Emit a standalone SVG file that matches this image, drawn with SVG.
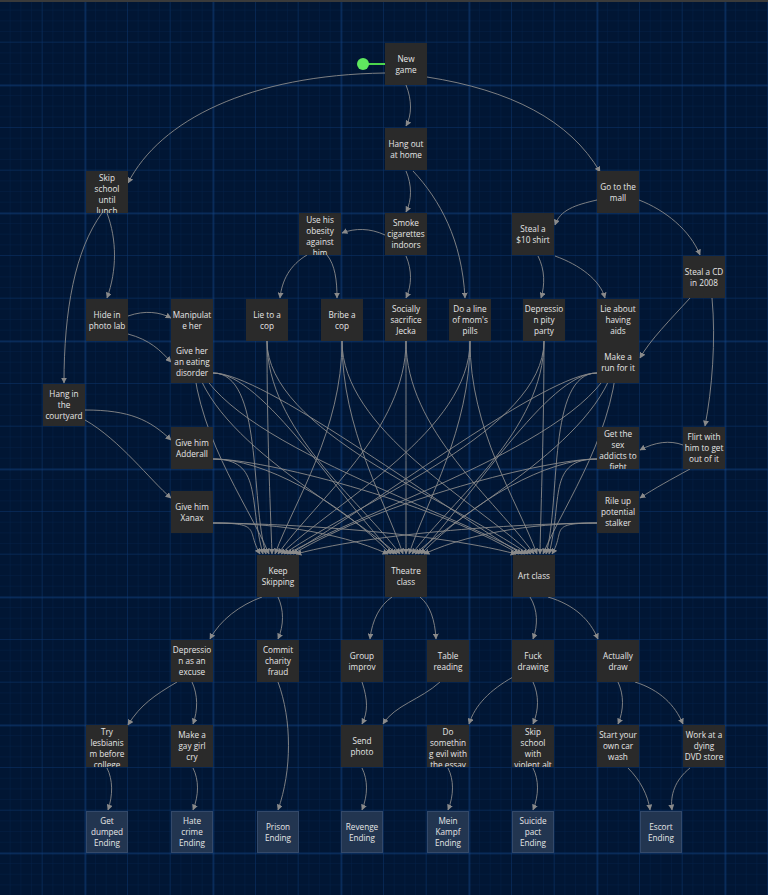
<svg xmlns="http://www.w3.org/2000/svg" width="768" height="895" viewBox="0 0 768 895">
<defs>
<pattern id="gf" width="10.667" height="10.667" patternUnits="userSpaceOnUse"><path d="M10.667 0V10.667H0" fill="none" stroke="#062552" stroke-width="0.6"/></pattern>
<pattern id="gm" width="42.667" height="42.667" patternUnits="userSpaceOnUse"><path d="M42.667 0V42.667H0" fill="none" stroke="#0b3570" stroke-width="0.8"/></pattern>
<pattern id="gM" x="85.33" y="85.33" width="128" height="128" patternUnits="userSpaceOnUse"><path d="M0 0V128M0 0H128" fill="none" stroke="#15478c" stroke-width="1"/></pattern>
<marker id="ar" viewBox="0 0 10 10" refX="9" refY="5" markerWidth="6" markerHeight="6" orient="auto" markerUnits="userSpaceOnUse"><path d="M0 0L10 5L0 10z" fill="#8a8a8a"/></marker>
</defs>
<style>
.bx{fill:#2a2a2a}
.en{fill:#223550;stroke:#33496a;stroke-width:1}
text{font-family:"Open Sans","Noto Sans","DejaVu Sans",sans-serif;font-size:8.2px;fill:#e6e6e6;text-anchor:middle}
#edges path{fill:none;stroke:#8a8a8a;stroke-width:0.9;marker-end:url(#ar)}
</style>
<rect width="768" height="895" fill="#011634"/>
<rect width="768" height="895" fill="url(#gf)"/>
<rect width="768" height="895" fill="url(#gm)"/>
<rect width="768" height="895" fill="url(#gM)"/>
<rect width="768" height="2" fill="#3a3a3a"/>

<g id="start"><line x1="363" y1="64" x2="385" y2="64" stroke="#4cd54c" stroke-width="2"/><circle cx="363" cy="64" r="6" fill="#5fe85f"/></g>

<g id="edges">
<path d="M406 85 C412 100 412 115 406 126"/>
<path d="M385 73 C250 75 160 120 128 183"/>
<path d="M427 77 C510 90 570 120 600 172"/>
<path d="M406 171 C412 185 412 200 406 212"/>
<path d="M413 171 C440 200 462 240 465 298"/>
<path d="M385 235 C370 228 355 228 342 233"/>
<path d="M406 256 C412 270 412 285 406 298"/>
<path d="M307 255 C290 265 282 280 280 298"/>
<path d="M327 255 C335 265 337 280 337 298"/>
<path d="M107 213 C117 240 117 270 107 298"/>
<path d="M102 213 C75 250 64 310 64 383"/>
<path d="M128 316 C145 310 160 312 171 318"/>
<path d="M128 334 C150 340 160 350 171 362"/>
<path d="M85 410 C130 410 150 420 171 440"/>
<path d="M85 420 C120 440 150 480 171 498"/>
<path d="M597 200 C575 205 560 210 555 225"/>
<path d="M639 200 C665 210 690 230 700 255"/>
<path d="M538 256 C545 270 545 285 541 298"/>
<path d="M555 256 C580 265 600 280 605 298"/>
<path d="M690 298 C670 320 650 340 640 358"/>
<path d="M712 298 C716 340 712 390 705 426"/>
<path d="M683 445 C670 440 655 442 640 450"/>
<path d="M690 469 C670 480 655 488 640 498"/>

<path d="M213 523 C263 523 246 530 260 554"/>
<path d="M213 459 C263 459 248 500 263 554"/>
<path d="M213 373 C263 373 250 500 266 554"/>
<path d="M192 341 C192 430 246 500 269 554"/>
<path d="M267 341 C267 430 270 500 272 554"/>
<path d="M342 341 C342 430 295 500 275 554"/>
<path d="M406 341 C406 430 316 500 278 554"/>
<path d="M470 341 C470 430 338 500 281 554"/>
<path d="M544 341 C544 430 362 500 284 554"/>
<path d="M618 341 C618 430 386 500 287 554"/>
<path d="M597 373 C547 373 382 500 290 554"/>
<path d="M597 459 C547 459 384 500 293 554"/>
<path d="M597 523 C547 523 386 530 296 554"/>

<path d="M213 523 C263 523 335 530 388 554"/>
<path d="M213 459 C263 459 338 500 391 554"/>
<path d="M213 373 C263 373 340 500 394 554"/>
<path d="M192 341 C192 430 335 500 397 554"/>
<path d="M267 341 C267 430 360 500 400 554"/>
<path d="M342 341 C342 430 385 500 403 554"/>
<path d="M406 341 C406 430 406 500 406 554"/>
<path d="M470 341 C470 430 427 500 409 554"/>
<path d="M544 341 C544 430 452 500 412 554"/>
<path d="M618 341 C618 430 476 500 415 554"/>
<path d="M597 373 C547 373 472 500 418 554"/>
<path d="M597 459 C547 459 474 500 421 554"/>
<path d="M597 523 C547 523 476 530 424 554"/>

<path d="M213 523 C263 523 425 530 516 554"/>
<path d="M213 459 C263 459 427 500 519 554"/>
<path d="M213 373 C263 373 430 500 522 554"/>
<path d="M192 341 C192 430 425 500 525 554"/>
<path d="M267 341 C267 430 450 500 528 554"/>
<path d="M342 341 C342 430 474 500 531 554"/>
<path d="M406 341 C406 430 496 500 534 554"/>
<path d="M470 341 C470 430 517 500 537 554"/>
<path d="M544 341 C544 430 541 500 540 554"/>
<path d="M618 341 C618 430 566 500 543 554"/>
<path d="M597 373 C547 373 561 500 546 554"/>
<path d="M597 459 C547 459 563 500 549 554"/>
<path d="M597 523 C547 523 566 530 552 554"/>

<path d="M262 597 C240 605 220 620 210 639"/>
<path d="M278 597 C284 610 284 625 278 639"/>
<path d="M177 682 C155 695 140 705 128 725"/>
<path d="M192 682 C198 695 198 710 193 724"/>
<path d="M107 768 C113 780 113 795 108 810"/>
<path d="M193 768 C199 780 199 795 193 810"/>
<path d="M278 682 C292 720 292 770 278 810"/>
<path d="M392 597 C380 605 372 620 370 639"/>
<path d="M420 597 C430 605 435 620 436 639"/>
<path d="M362 682 C368 700 368 712 362 724"/>
<path d="M440 682 C420 700 395 705 383 724"/>
<path d="M362 768 C368 780 368 795 362 810"/>
<path d="M530 597 C538 610 538 625 533 639"/>
<path d="M548 597 C575 605 590 620 598 639"/>
<path d="M513 677 C490 690 475 705 469 724"/>
<path d="M533 682 C539 695 539 710 533 724"/>
<path d="M618 682 C624 695 624 710 618 724"/>
<path d="M635 682 C660 690 675 705 683 724"/>
<path d="M448 768 C454 780 454 795 448 810"/>
<path d="M533 768 C539 780 539 795 533 810"/>
<path d="M628 768 C640 780 648 795 650 810"/>
<path d="M690 768 C675 780 670 795 672 810"/>
</g>

<g id="n-newgame"><svg x="385" y="43" width="42" height="42"><rect class="bx" width="42" height="42"/><text x="21" y="18.5">New</text><text x="21" y="29.5">game</text></svg></g>
<g id="n-hangout"><svg x="385" y="128" width="42" height="42"><rect class="bx" width="42" height="42"/><text x="21" y="18.5">Hang out</text><text x="21" y="29.5">at home</text></svg></g>
<g id="n-skipschool"><svg x="86" y="171" width="42" height="42"><rect class="bx" width="42" height="42"/><text x="21" y="10">Skip</text><text x="21" y="21">school</text><text x="21" y="32">until</text><text x="21" y="43">lunch</text></svg></g>
<g id="n-mall"><svg x="597" y="171" width="42" height="42"><rect class="bx" width="42" height="42"/><text x="21" y="18.5">Go to the</text><text x="21" y="29.5">mall</text></svg></g>
<g id="n-obesity"><svg x="299" y="213" width="42" height="42"><rect class="bx" width="42" height="42"/><text x="21" y="10">Use his</text><text x="21" y="21">obesity</text><text x="21" y="32">against</text><text x="21" y="43">him</text></svg></g>
<g id="n-smoke"><svg x="385" y="213" width="42" height="42"><rect class="bx" width="42" height="42"/><text x="21" y="13">Smoke</text><text x="21" y="24">cigarettes</text><text x="21" y="35">indoors</text></svg></g>
<g id="n-shirt"><svg x="512" y="213" width="42" height="42"><rect class="bx" width="42" height="42"/><text x="21" y="18.5">Steal a</text><text x="21" y="29.5">$10 shirt</text></svg></g>
<g id="n-cd"><svg x="683" y="256" width="42" height="42"><rect class="bx" width="42" height="42"/><text x="21" y="18.5">Steal a CD</text><text x="21" y="29.5">in 2008</text></svg></g>
<g id="n-photolab"><svg x="86" y="299" width="42" height="42"><rect class="bx" width="42" height="42"/><text x="21" y="18.5">Hide in</text><text x="21" y="29.5">photo lab</text></svg></g>
<g id="n-manip"><svg x="171" y="299" width="42" height="42"><rect class="bx" width="42" height="42"/><text x="21" y="18.5">Manipulat</text><text x="21" y="29.5">e her</text></svg></g>
<g id="n-lie"><svg x="246" y="299" width="42" height="42"><rect class="bx" width="42" height="42"/><text x="21" y="18.5">Lie to a</text><text x="21" y="29.5">cop</text></svg></g>
<g id="n-bribe"><svg x="321" y="299" width="42" height="42"><rect class="bx" width="42" height="42"/><text x="21" y="18.5">Bribe a</text><text x="21" y="29.5">cop</text></svg></g>
<g id="n-jecka"><svg x="385" y="299" width="42" height="42"><rect class="bx" width="42" height="42"/><text x="21" y="13">Socially</text><text x="21" y="24">sacrifice</text><text x="21" y="35">Jecka</text></svg></g>
<g id="n-pills"><svg x="449" y="299" width="42" height="42"><rect class="bx" width="42" height="42"/><text x="21" y="13">Do a line</text><text x="21" y="24">of mom's</text><text x="21" y="35">pills</text></svg></g>
<g id="n-pity"><svg x="523" y="299" width="42" height="42"><rect class="bx" width="42" height="42"/><text x="21" y="13">Depressio</text><text x="21" y="24">n pity</text><text x="21" y="35">party</text></svg></g>
<g id="n-aids"><svg x="597" y="299" width="42" height="42"><rect class="bx" width="42" height="42"/><text x="21" y="13">Lie about</text><text x="21" y="24">having</text><text x="21" y="35">aids</text></svg></g>
<g id="n-courtyard"><svg x="43" y="384" width="42" height="42"><rect class="bx" width="42" height="42"/><text x="21" y="13">Hang in</text><text x="21" y="24">the</text><text x="21" y="35">courtyard</text></svg></g>
<g id="n-eating"><svg x="171" y="341" width="42" height="42"><rect class="bx" width="42" height="42"/><text x="21" y="13">Give her</text><text x="21" y="24">an eating</text><text x="21" y="35">disorder</text></svg></g>
<g id="n-run"><svg x="597" y="341" width="42" height="42"><rect class="bx" width="42" height="42"/><text x="21" y="18.5">Make a</text><text x="21" y="29.5">run for it</text></svg></g>
<g id="n-adderall"><svg x="171" y="427" width="42" height="42"><rect class="bx" width="42" height="42"/><text x="21" y="18.5">Give him</text><text x="21" y="29.5">Adderall</text></svg></g>
<g id="n-sexaddicts"><svg x="597" y="427" width="42" height="42"><rect class="bx" width="42" height="42"/><text x="21" y="10">Get the</text><text x="21" y="21">sex</text><text x="21" y="32">addicts to</text><text x="21" y="43">fight</text></svg></g>
<g id="n-flirt"><svg x="683" y="427" width="42" height="42"><rect class="bx" width="42" height="42"/><text x="21" y="13">Flirt with</text><text x="21" y="24">him to get</text><text x="21" y="35">out of it</text></svg></g>
<g id="n-xanax"><svg x="171" y="491" width="42" height="42"><rect class="bx" width="42" height="42"/><text x="21" y="18.5">Give him</text><text x="21" y="29.5">Xanax</text></svg></g>
<g id="n-stalker"><svg x="597" y="491" width="42" height="42"><rect class="bx" width="42" height="42"/><text x="21" y="13">Rile up</text><text x="21" y="24">potential</text><text x="21" y="35">stalker</text></svg></g>
<g id="n-keepskip"><svg x="257" y="555" width="42" height="42"><rect class="bx" width="42" height="42"/><text x="21" y="18.5">Keep</text><text x="21" y="29.5">Skipping</text></svg></g>
<g id="n-theatre"><svg x="385" y="555" width="42" height="42"><rect class="bx" width="42" height="42"/><text x="21" y="18.5">Theatre</text><text x="21" y="29.5">class</text></svg></g>
<g id="n-art"><svg x="513" y="555" width="42" height="42"><rect class="bx" width="42" height="42"/><text x="21" y="24">Art class</text></svg></g>
<g id="n-depexcuse"><svg x="171" y="640" width="42" height="42"><rect class="bx" width="42" height="42"/><text x="21" y="13">Depressio</text><text x="21" y="24">n as an</text><text x="21" y="35">excuse</text></svg></g>
<g id="n-charity"><svg x="257" y="640" width="42" height="42"><rect class="bx" width="42" height="42"/><text x="21" y="13">Commit</text><text x="21" y="24">charity</text><text x="21" y="35">fraud</text></svg></g>
<g id="n-improv"><svg x="341" y="640" width="42" height="42"><rect class="bx" width="42" height="42"/><text x="21" y="18.5">Group</text><text x="21" y="29.5">improv</text></svg></g>
<g id="n-table"><svg x="427" y="640" width="42" height="42"><rect class="bx" width="42" height="42"/><text x="21" y="18.5">Table</text><text x="21" y="29.5">reading</text></svg></g>
<g id="n-fuckdraw"><svg x="512" y="640" width="42" height="42"><rect class="bx" width="42" height="42"/><text x="21" y="18.5">Fuck</text><text x="21" y="29.5">drawing</text></svg></g>
<g id="n-actdraw"><svg x="597" y="640" width="42" height="42"><rect class="bx" width="42" height="42"/><text x="21" y="18.5">Actually</text><text x="21" y="29.5">draw</text></svg></g>
<g id="n-lesb"><svg x="86" y="725" width="42" height="42"><rect class="bx" width="42" height="42"/><text x="21" y="10">Try</text><text x="21" y="21">lesbianis</text><text x="21" y="32">m before</text><text x="21" y="43">college</text></svg></g>
<g id="n-gaygirl"><svg x="171" y="725" width="42" height="42"><rect class="bx" width="42" height="42"/><text x="21" y="13">Make a</text><text x="21" y="24">gay girl</text><text x="21" y="35">cry</text></svg></g>
<g id="n-photo"><svg x="341" y="725" width="42" height="42"><rect class="bx" width="42" height="42"/><text x="21" y="18.5">Send</text><text x="21" y="29.5">photo</text></svg></g>
<g id="n-evil"><svg x="427" y="725" width="42" height="42"><rect class="bx" width="42" height="42"/><text x="21" y="10">Do</text><text x="21" y="21">somethin</text><text x="21" y="32">g evil with</text><text x="21" y="43">the essay</text></svg></g>
<g id="n-violent"><svg x="512" y="725" width="42" height="42"><rect class="bx" width="42" height="42"/><text x="21" y="10">Skip</text><text x="21" y="21">school</text><text x="21" y="32">with</text><text x="21" y="43">violent alt</text></svg></g>
<g id="n-carwash"><svg x="597" y="725" width="42" height="42"><rect class="bx" width="42" height="42"/><text x="21" y="13">Start your</text><text x="21" y="24">own car</text><text x="21" y="35">wash</text></svg></g>
<g id="n-dvd"><svg x="683" y="725" width="42" height="42"><rect class="bx" width="42" height="42"/><text x="21" y="13">Work at a</text><text x="21" y="24">dying</text><text x="21" y="35">DVD store</text></svg></g>
<g id="e-dumped"><svg x="86" y="811" width="42" height="42"><rect class="en" x="0.5" y="0.5" width="41" height="41"/><text x="21" y="13">Get</text><text x="21" y="24">dumped</text><text x="21" y="35">Ending</text></svg></g>
<g id="e-hate"><svg x="171" y="811" width="42" height="42"><rect class="en" x="0.5" y="0.5" width="41" height="41"/><text x="21" y="13">Hate</text><text x="21" y="24">crime</text><text x="21" y="35">Ending</text></svg></g>
<g id="e-prison"><svg x="257" y="811" width="42" height="42"><rect class="en" x="0.5" y="0.5" width="41" height="41"/><text x="21" y="18.5">Prison</text><text x="21" y="29.5">Ending</text></svg></g>
<g id="e-revenge"><svg x="341" y="811" width="42" height="42"><rect class="en" x="0.5" y="0.5" width="41" height="41"/><text x="21" y="18.5">Revenge</text><text x="21" y="29.5">Ending</text></svg></g>
<g id="e-kampf"><svg x="427" y="811" width="42" height="42"><rect class="en" x="0.5" y="0.5" width="41" height="41"/><text x="21" y="13">Mein</text><text x="21" y="24">Kampf</text><text x="21" y="35">Ending</text></svg></g>
<g id="e-suicide"><svg x="512" y="811" width="42" height="42"><rect class="en" x="0.5" y="0.5" width="41" height="41"/><text x="21" y="13">Suicide</text><text x="21" y="24">pact</text><text x="21" y="35">Ending</text></svg></g>
<g id="e-escort"><svg x="640" y="811" width="42" height="42"><rect class="en" x="0.5" y="0.5" width="41" height="41"/><text x="21" y="18.5">Escort</text><text x="21" y="29.5">Ending</text></svg></g>
</svg>
